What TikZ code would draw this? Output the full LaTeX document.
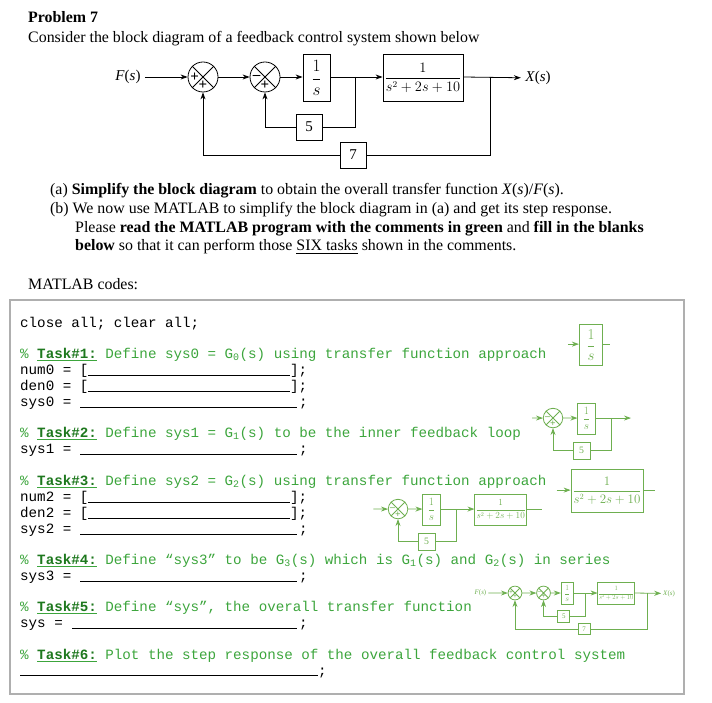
\documentclass[tikz,border=0pt]{standalone}
\usepackage{amsmath}
\usepackage{fontspec}
\setmainfont{Liberation Serif}
\setmonofont{Liberation Mono}
\usetikzlibrary{arrows.meta}
\definecolor{cgreen}{RGB}{60,165,60}
\definecolor{tgreen}{RGB}{30,120,30}
\definecolor{dgreen}{RGB}{110,175,80}
\tikzset{
 arr/.style={-{Stealth[length=7pt,width=5pt]}},
 sumc/.style={draw,circle,minimum size=30pt,inner sep=0pt},
 blk/.style={draw,minimum width=27pt,minimum height=47pt,inner sep=1pt,font=\fontsize{16}{18}\selectfont},
 kblk/.style={draw,minimum size=26pt,inner sep=0pt,font=\fontsize{15}{17}\selectfont},
 sgn/.style={font=\bfseries\fontsize{15}{15}\selectfont,inner sep=0pt},
 lbl/.style={inner sep=4pt,font=\fontsize{15}{17}\selectfont},
 txt/.style={anchor=base west,inner sep=0pt,font=\fontsize{15.9}{17}\selectfont},
 code/.style={anchor=base west,inner sep=0pt,font=\ttfamily\fontsize{14.2}{16}\selectfont},
 blank/.style={line width=0.9pt},
}
\newcommand\cmt[2]{{\color{cgreen}\%\ \underline{\textbf{\color{tgreen}Task\##1:}} #2}}
\newcommand\sumcross[1]{\draw (#1.north west)--(#1.south east) (#1.north east)--(#1.south west);}
\newcommand\innerloop[1]{
 \node[sumc] (#1s2) at (265,77) {};
 \sumcross{#1s2}
 \node[sgn] (#1m2) at ([xshift=7pt]#1s2.west) {–};
 \node[sgn] (#1p2) at ([yshift=7pt]#1s2.south) {+};
 \node[blk] (#1b1) at (316.5,78) {$\dfrac{1}{s}$};
 \coordinate (#1br) at (355,77);
 \node[kblk] (#1k5) at (309,127) {5};
 \draw[arr] (#1s2) -- (#1b1.west|-#1s2);
 \draw (#1br) |- (#1k5);
 \draw[arr] (#1k5) -| (#1s2);
}
\newcommand\plant[1]{
 \node[blk,minimum width=80pt,font=\fontsize{13.5}{16}\selectfont] (#1b2) at (423,78) {$\dfrac{1}{s^2+2s+10}$};
}
\newcommand\fullsys[1]{
 \node[lbl] (#1F) at (128,77) {\textit{F}(\textit{s})};
 \node[sumc] (#1s1) at (203,77) {};
 \sumcross{#1s1}
 \node[sgn] (#1p1a) at ([xshift=7pt]#1s1.west) {+};
 \node[sgn] (#1p1b) at ([yshift=7pt]#1s1.south) {+};
 \innerloop{#1}
 \plant{#1}
 \node[lbl] (#1X) at (538,78) {\textit{X}(\textit{s})};
 \coordinate (#1br2) at (490,77);
 \node[kblk] (#1k7) at (353,155) {7};
 \draw[arr] (#1F) -- (#1s1);
 \draw[arr] (#1s1) -- (#1s2);
 \draw[arr] (#1b1.east|-#1s2) -- (#1b2.west|-#1s2);
 \draw[arr] (#1b2.east|-#1s2) -- (#1X);
 \draw (#1br2) |- (#1k7);
 \draw[arr] (#1k7) -| (#1s1);
}
\begin{document}
\begin{tikzpicture}[x=1pt,y=-1pt]
\useasboundingbox (0,0) rectangle (712,703);
\node[txt,font=\bfseries\fontsize{15.9}{17}\selectfont] (t0) at (28,23) {Problem 7};
\node[txt] (t1) at (28,43) {Consider the block diagram of a feedback control system shown below};
\begin{scope}[line width=0.8pt]
 \fullsys{}
\end{scope}
\node[txt] (ta) at (50,195) {(a) \textbf{Simplify the block diagram} to obtain the overall transfer function \textit{X}(\textit{s})/\textit{F}(\textit{s}).};
\node[txt] (tb) at (50,214) {(b) We now use MATLAB to simplify the block diagram in (a) and get its step response.};
\node[txt] (tc) at (75,233) {Please \textbf{read the MATLAB program with the comments in green} and \textbf{fill in the blanks}};
\node[txt] (td) at (75,251) {\textbf{below} so that it can perform those \underline{SIX tasks} shown in the comments.};
\node[txt] (tm) at (28,290) {MATLAB codes:};
\draw[draw={rgb,255:red,175;green,175;blue,175},line width=1.3pt] (10,300) rectangle (684,694);
\node[code] (c0) at (20,327) {close all; clear all;};
\node[code] (c1) at (20,358) {\cmt{1}{Define sys0 = G\textsubscript{0}(s) using transfer function approach}};
\node[code] (c2) at (20,374) {num0 = [}; \draw[blank] (88,375)--(290,375); \node[code] (c2e) at (290,374) {];};
\node[code] (c3) at (20,390) {den0 = [}; \draw[blank] (88,391)--(290,391); \node[code] (c3e) at (290,390) {];};
\node[code] (c4) at (20,406) {sys0 = }; \draw[blank] (80,407)--(297,407); \node[code] (c4e) at (299,406) {;};
\node[code] (c5) at (20,437) {\cmt{2}{Define sys1 = G\textsubscript{1}(s) to be the inner feedback loop}};
\node[code] (c6) at (20,453) {sys1 = }; \draw[blank] (80,454)--(297,454); \node[code] (c6e) at (299,453) {;};
\node[code] (c7) at (20,485) {\cmt{3}{Define sys2 = G\textsubscript{2}(s) using transfer function approach}};
\node[code] (c8) at (20,501) {num2 = [}; \draw[blank] (88,502)--(290,502); \node[code] (c8e) at (290,501) {];};
\node[code] (c9) at (20,517) {den2 = [}; \draw[blank] (88,518)--(290,518); \node[code] (c9e) at (290,517) {];};
\node[code] (c10) at (20,533) {sys2 = }; \draw[blank] (80,534)--(297,534); \node[code] (c10e) at (299,533) {;};
\node[code] (c11) at (20,564) {\cmt{4}{Define “sys3” to be G\textsubscript{3}(s) which is G\textsubscript{1}(s) and G\textsubscript{2}(s) in series}};
\node[code] (c12) at (20,580) {sys3 = }; \draw[blank] (80,581)--(297,581); \node[code] (c12e) at (299,580) {;};
\node[code] (c13) at (20,611) {\cmt{5}{Define “sys”, the overall transfer function}};
\node[code] (c14) at (20,627) {sys = }; \draw[blank] (72,628)--(297,628); \node[code] (c14e) at (299,627) {;};
\node[code] (c15) at (20,659) {\cmt{6}{Plot the step response of the overall feedback control system}};
\draw[blank] (20,675)--(318,675); \node[code] (c16e) at (318,675) {;};
\begin{scope}[draw=dgreen,text=dgreen,line width=0.8pt]
 \begin{scope}[shift={(591,345)},scale=0.87,transform shape,shift={(-316.5,-78)}]
  \node[blk] (ab1) at (316.5,78) {$\dfrac{1}{s}$};
  \coordinate (ain) at (290,77); \coordinate (aout) at (338,77);
  \draw[arr] (ain) -- (ab1.west|-ain);
  \draw (ab1.east|-aout) -- (aout);
 \end{scope}
 \begin{scope}[shift={(380.75,368)},scale=0.65,transform shape]
  \innerloop{b}
  \coordinate (bin) at (233,77); \coordinate (bout) at (385,77);
  \draw[arr] (bin) -- (bs2);
  \draw[arr] (bb1.east|-bs2) -- (bout);
 \end{scope}
 \begin{scope}[shift={(607,491)},scale=0.9,transform shape,shift={(-423,-78)}]
  \plant{c}
  \coordinate (cin) at (367,77); \coordinate (cout) at (476,77);
  \draw[arr] (cin) -- (cb2.west|-cin);
  \draw (cb2.east|-cout) -- (cout);
 \end{scope}
 \begin{scope}[shift={(225.75,459)},scale=0.65,transform shape]
  \innerloop{d}
  \plant{d}
  \coordinate (din) at (227,77); \coordinate (dout) at (487,77);
  \draw[arr] (din) -- (ds2);
  \draw[arr] (db1.east|-ds2) -- (db2.west|-ds2);
  \draw (db2.east|-ds2) -- (dout);
 \end{scope}
 \begin{scope}[shift={(421.6,557.6)},scale=0.46,transform shape]
  \fullsys{e}
 \end{scope}
\end{scope}
\end{tikzpicture}
\end{document}
